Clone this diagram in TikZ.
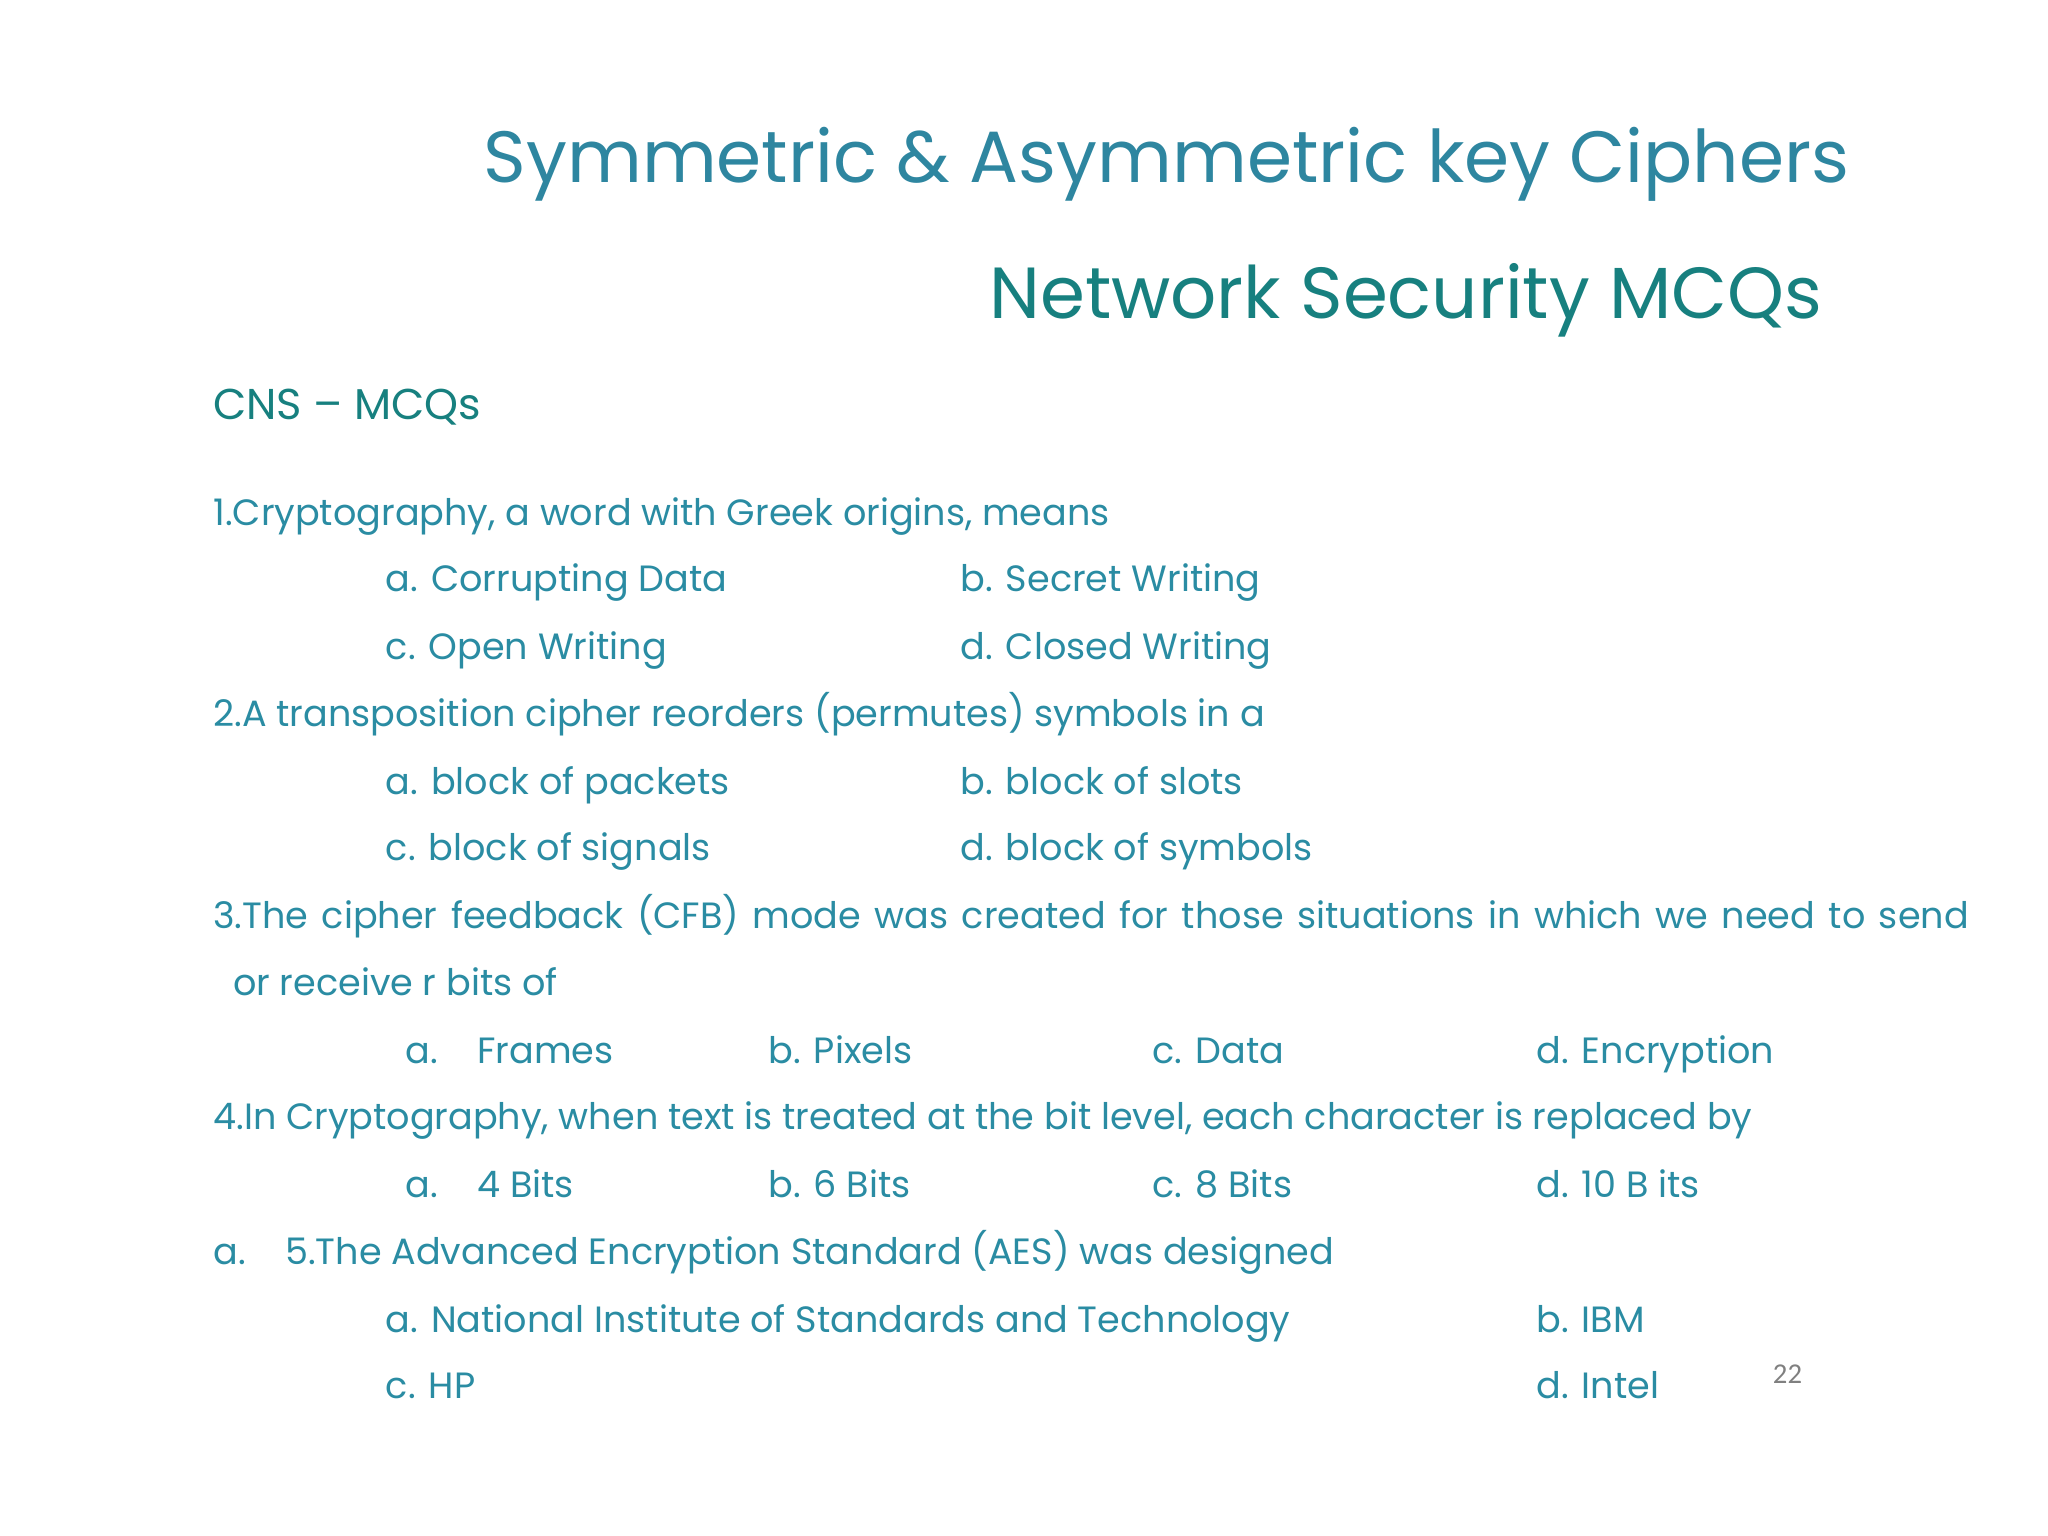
\documentclass[tikz,border=0pt]{standalone}
\usepackage{fontspec}
\setmainfont{Poppins}
\newfontfamily\pnum{Carlito}
\definecolor{titc}{HTML}{2E86A0}
\definecolor{subc}{HTML}{17807F}
\definecolor{bodyc}{HTML}{2A8CA3}
\begin{document}
\begin{tikzpicture}[x=0.5pt,y=-0.5pt,
  tx/.style={anchor=base west,inner sep=0pt,text=bodyc,font=\fontsize{14}{16}\selectfont}]
\useasboundingbox[fill=white] (0,0) rectangle (1568,1176);
\node[tx,text=titc,font=\fontsize{27.8}{32}\selectfont] (t) at (370,140) {Symmetric \& Asymmetric key Ciphers};
\node[tx,text=subc,font=\fontsize{27.7}{30}\selectfont] (s) at (757,244) {Network Security MCQs};
\node[tx,text=subc,font=\fontsize{16.5}{18}\selectfont] (c) at (163,321) {CNS – MCQs};
\node[tx] (q1) at (163,402) {1.Cryptography, a word with Greek origins, means};
\node[tx] (q1a) at (295,453) {a. Corrupting Data};
\node[tx] (q1b) at (735,453) {b. Secret Writing};
\node[tx] (q1c) at (295,505) {c. Open Writing};
\node[tx] (q1d) at (735,505) {d. Closed Writing};
\node[tx] (q2) at (163,556) {2.A transposition cipher reorders (permutes) symbols in a};
\node[tx] (q2a) at (295,608) {a. block of packets};
\node[tx] (q2b) at (735,608) {b. block of slots};
\node[tx] (q2c) at (295,659) {c. block of signals};
\node[tx] (q2d) at (735,659) {d. block of symbols};
\node[tx] (q3) at (163,711) {\hbox to 672pt{3.The cipher feedback (CFB) mode was created for those situations in which we need to send}};
\node[tx] (q3x) at (178,762) {or receive r bits of};
\node[tx] (q3al) at (310,814) {a.};
\node[tx] (q3a) at (365,814) {Frames};
\node[tx] (q3b) at (588,814) {b. Pixels};
\node[tx] (q3c) at (882,814) {c. Data};
\node[tx] (q3d) at (1176,814) {d. Encryption};
\node[tx] (q4) at (163,865) {4.In Cryptography, when text is treated at the bit level, each character is replaced by};
\node[tx] (q4al) at (310,917) {a.};
\node[tx] (q4a) at (365,917) {4 Bits};
\node[tx] (q4b) at (588,917) {b. 6 Bits};
\node[tx] (q4c) at (882,917) {c. 8 Bits};
\node[tx] (q4d) at (1176,917) {d. 10 B its};
\node[tx] (q5l) at (163,968) {a.};
\node[tx] (q5) at (218,968) {5.The Advanced Encryption Standard (AES) was designed};
\node[tx] (q5a) at (295,1020) {a. National Institute of Standards and Technology};
\node[tx] (q5b) at (1176,1020) {b. IBM};
\node[tx] (q5c) at (295,1071) {c. HP};
\node[tx] (q5d) at (1176,1071) {d. Intel};
\node[tx,text=gray,font=\pnum\fontsize{11}{12}\selectfont] (pn) at (1357,1059) {22};
\end{tikzpicture}
\end{document}
